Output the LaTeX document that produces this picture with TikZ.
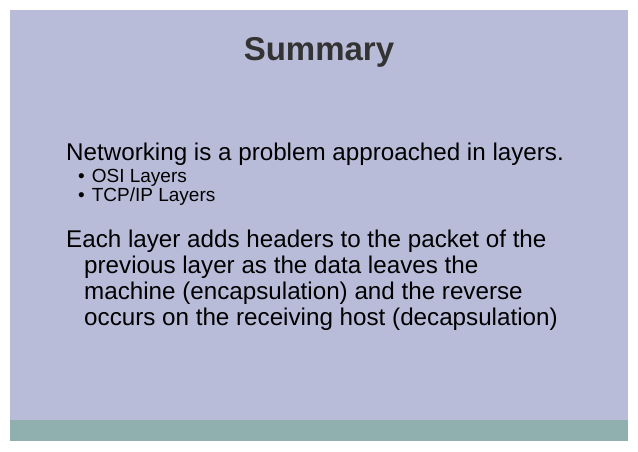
\documentclass[tikz,border=0pt]{standalone}
\usepackage{fontspec}
\setmainfont{Liberation Sans}
\definecolor{lav}{HTML}{B9BCD9}
\definecolor{teal}{HTML}{8FB0AE}
\definecolor{txt}{HTML}{000000}
\definecolor{ttl}{HTML}{333333}
\begin{document}
\begin{tikzpicture}[x=1pt,y=-1pt,
 body/.style={anchor=base west,inner sep=0,font=\fontsize{24.2}{28}\selectfont},
 bul/.style={anchor=base west,inner sep=0,font=\fontsize{19}{22}\selectfont}]
\useasboundingbox (0,0) rectangle (638,451);
\fill[white] (0,0) rectangle (638,451);
\fill[lav] (10,10) rectangle (628,420);
\fill[teal] (10,420) rectangle (628,441);
\node[anchor=base,inner sep=0,font=\bfseries\fontsize{33}{38}\selectfont,text=ttl] (t) at (319,60) {Summary};
\node[body] (l1) at (66,160) {Networking is a problem approached in layers.};
\node[bul] (b1) at (78,182) {•\hspace{7pt}OSI Layers};
\node[bul] (b2) at (78,201) {•\hspace{7pt}TCP/IP Layers};
\node[body] (e1) at (66,247) {Each layer adds headers to the packet of the};
\node[body] (e2) at (84,273) {previous layer as the data leaves the};
\node[body] (e3) at (84,299) {machine (encapsulation) and the reverse};
\node[body] (e4) at (84,325) {occurs on the receiving host (decapsulation)};
\end{tikzpicture}
\end{document}
